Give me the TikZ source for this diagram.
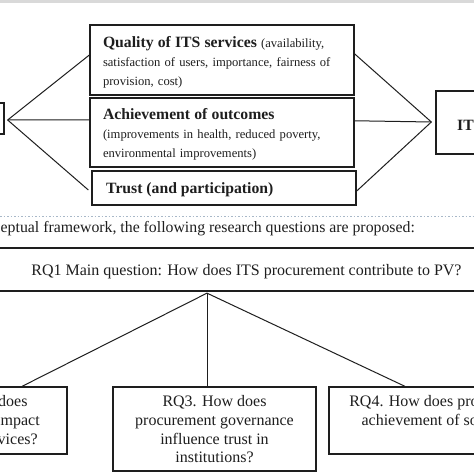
\documentclass[tikz,border=0pt]{standalone}
\usepackage{fontspec}
\setmainfont{Liberation Serif}
\usetikzlibrary{calc}
\definecolor{ink}{HTML}{1E1E1E}
\definecolor{band}{HTML}{D9D9D9}
\definecolor{dotc}{HTML}{A8B8C8}
\newcommand{\bt}{\bfseries\fontsize{15.7}{19}\selectfont}
\newcommand{\sm}{\normalfont\fontsize{12.6}{19}\selectfont}
\tikzset{
  boxnode/.style={draw=ink, line width=1.3pt, inner sep=0pt, fill=none},
  link/.style={draw=ink, line width=1pt},
  txt/.style={inner sep=0pt, text=ink},
  rqtxt/.style={txt, align=center, font=\fontsize{16}{18.6}\selectfont},
}
\begin{document}
\begin{tikzpicture}[x=1pt,y=-1pt]
\useasboundingbox (0,0) rectangle (474,474);
\clip (0,0) rectangle (474,474);
\fill[white] (0,0) rectangle (474,474);
\fill[band] (0,0) rectangle (474,2.5);

% upper framework boxes
\node[boxnode, minimum width=264pt, minimum height=70pt] (q) at (222,60) {};
\node[boxnode, minimum width=264pt, minimum height=69pt] (a) at (222,132.5) {};
\node[boxnode, minimum width=264pt, minimum height=34pt] (t) at (224,188) {};
\node[boxnode, minimum width=54pt, minimum height=31pt] (lb) at (-23,118.5) {};
\node[boxnode, minimum width=84pt, minimum height=63pt] (rb) at (478,122.5) {};

\node[txt, text width=239pt, align=left, font=\sm] (qt) at (222.5,62) {%
\makebox[239pt][s]{\bt Quality of ITS services \sm (availability,}\\
\makebox[239pt][s]{\sm satisfaction of users, importance, fairness of}\\
provision, cost)};
\node[txt, text width=239pt, align=left, font=\sm] (at) at (222.5,134.5) {%
{\bt Achievement of outcomes}\\
(improvements in health, reduced poverty,\\
environmental improvements)};
\node[txt, anchor=base west, font=\bt] (tt) at (106,193) {Trust (and participation)};
\node[txt, anchor=base west, font=\bt] (rt) at (457,130) {ITS};

% connectors left
\coordinate (lap) at ($(lb.east)+(3,1.5)$);
\draw[link] ($(q.north west)!0.43!(q.south west)$) -- (lap);
\draw[link] ($(a.north west)!0.319!(a.south west)$) -- (lap);
\draw[link] ($(t.west)+(-3,2)$) -- (lap);
% connectors right
\coordinate (rap) at ($(rb.west)+(-4,-0.5)$);
\draw[link] ($(q.north east)!0.414!(q.south east)$) -- (rap);
\draw[link] ($(a.north east)!0.333!(a.south east)$) -- (rap);
\draw[link] ($(t.east)+(-1,4)$) -- (rap);

% separator and sentence
\coordinate (d1) at (0,216);
\coordinate (d2) at (474,216);
\draw[dotc, line width=1pt, dash pattern=on 1.5pt off 2pt] (d1) -- (d2);
\node[txt, anchor=base west, font=\fontsize{15.8}{19}\selectfont] (intro) at (0.5,232)
  {eptual framework, the following research questions are proposed:};

% research questions
\node[boxnode, minimum width=554pt, minimum height=43pt] (r1) at (207,269.5) {};
\node[txt, anchor=base, font=\fontsize{16}{19}\selectfont] (r1t) at (246.5,275.5)
  {RQ1 Main question: How does ITS procurement contribute to PV?};

\node[boxnode, minimum width=183pt, minimum height=67pt] (r2) at (-24.5,420.5) {};
\node[boxnode, minimum width=203pt, minimum height=84pt] (r3) at (214.5,429) {};
\node[boxnode, minimum width=277pt, minimum height=67pt] (r4) at (467.5,420.5) {};

\node[rqtxt, anchor=north] (r2t) at (-24.5,395.5)
  {RQ2. How does\\procurement impact\\quality of services?};
\node[rqtxt, anchor=north] (r3t) at (214.5,395.5)
  {RQ3. How does\\procurement governance\\influence trust in\\institutions?};
\node[rqtxt, anchor=north] (r4t) at (467.5,395.5)
  {RQ4. How does procurement impact\\achievement of social outcomes?};

\draw[link] ($(r1.south)+(0,1.5)$) -- ($(r2.north)+(46.5,0)$);
\draw[link] ($(r1.south)+(0,1.5)$) -- ($(r3.north)+(-7.5,0)$);
\draw[link] ($(r1.south)+(0,1.5)$) -- ($(r4.north)+(-62.5,0)$);
\end{tikzpicture}
\end{document}
